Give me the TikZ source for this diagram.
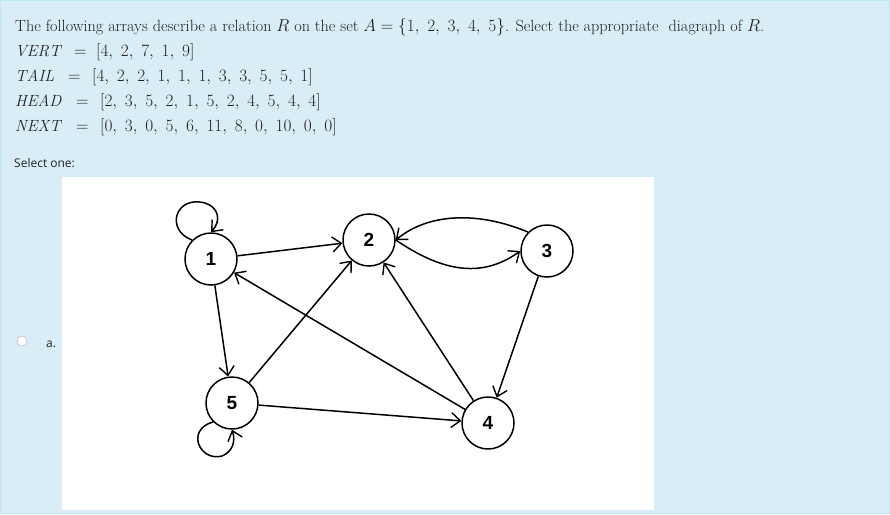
\documentclass[tikz,border=0pt]{standalone}
\usepackage{fontspec}
\newfontfamily\osans{Open Sans}
\newfontfamily\nsans{Liberation Sans}
\usetikzlibrary{arrows.meta}
\definecolor{bg}{HTML}{D9EDF7}
\definecolor{bd}{HTML}{BCE8F1}
\definecolor{tx}{HTML}{222222}
\tikzset{
  vtx/.style={circle,draw,line width=1.5pt,minimum size=52pt,inner sep=0pt,font=\nsans\bfseries\fontsize{19}{19}\selectfont},
  edge/.style={line width=1.5pt,-{Straight Barb[length=9pt,width=15pt,line width=1.4pt]}},
  mtx/.style={anchor=base west,inner sep=0pt,text=tx,font=\fontsize{16.2}{19}\selectfont},
}
\begin{document}
\begin{tikzpicture}[x=1pt,y=-1pt]
\fill[bg] (0,0) rectangle (890,514);
\draw[bd,line width=1pt] (0.5,0.5) rectangle (889.5,513.5);
\node[mtx] (t0) at (15,31) {The following arrays describe a relation $R$ on the set $A=\{1,\ 2,\ 3,\ 4,\ 5\}$. Select the appropriate \ diagraph of $R$.};
\node[mtx] (l1) at (15,56) {$\mathit{VERT}$};
\node[mtx] (e1) at (74,56) {$=$};
\node[mtx] (a1) at (96,56) {$[4,\ 2,\ 7,\ 1,\ 9]$};
\node[mtx] (l2) at (15,81) {$\mathit{TAIL}$};
\node[mtx] (e2) at (68,81) {$=$};
\node[mtx] (a2) at (92,81) {$[4,\ 2,\ 2,\ 1,\ 1,\ 1,\ 3,\ 3,\ 5,\ 5,\ 1]$};
\node[mtx] (l3) at (15,106) {$\mathit{HEAD}$};
\node[mtx] (e3) at (76,106) {$=$};
\node[mtx] (a3) at (100,106) {$[2,\ 3,\ 5,\ 2,\ 1,\ 5,\ 2,\ 4,\ 5,\ 4,\ 4]$};
\node[mtx] (l4) at (15,131) {$\mathit{NEXT}$};
\node[mtx] (e4) at (76,131) {$=$};
\node[mtx] (a4) at (100,131) {$[0,\ 3,\ 0,\ 5,\ 6,\ 11,\ 8,\ 0,\ 10,\ 0,\ 0]$};
\node[anchor=base west,inner sep=0pt,text=tx,font=\osans\fontsize{12}{14}\selectfont] (sel) at (14,167) {Select one:};
\node[circle,draw=gray!60,fill=white,minimum size=10pt,inner sep=0pt] (rb) at (22,341) {};
\node[anchor=base west,inner sep=0pt,text=tx,font=\osans\fontsize{12}{14}\selectfont] (lab) at (46,347) {a.};
\fill[white] (62,177) rectangle (654,510);
\node[vtx] (n1) at (211,259) {1};
\node[vtx] (n2) at (369,240) {2};
\node[vtx] (n3) at (547,251) {3};
\node[vtx] (n4) at (488,423) {4};
\node[vtx] (n5) at (232,403) {5};
\draw[edge] (n1) -- (n2);
\draw[edge] (n3.north west) .. controls (480,212) and (430,212) .. (n2.east);
\draw[edge] (n2.east) .. controls (440,270) and (480,280) .. (n3.west);
\draw[edge] (n1) -- (n5);
\draw[edge] (n5) -- (n2);
\draw[edge] (n4) -- (n1);
\draw[edge] (n4) -- (n2);
\draw[edge] (n3) -- (n4);
\draw[edge] (n5) -- (n4);
\draw[edge] (n1.north west) .. controls (165,230) and (175,195) .. (205,203) .. controls (218,207) and (222,220) .. (n1.north);
\draw[edge] (n5.south west) .. controls (185,430) and (200,462) .. (222,456) .. controls (232,452) and (236,442) .. (n5.south);
\end{tikzpicture}
\end{document}
